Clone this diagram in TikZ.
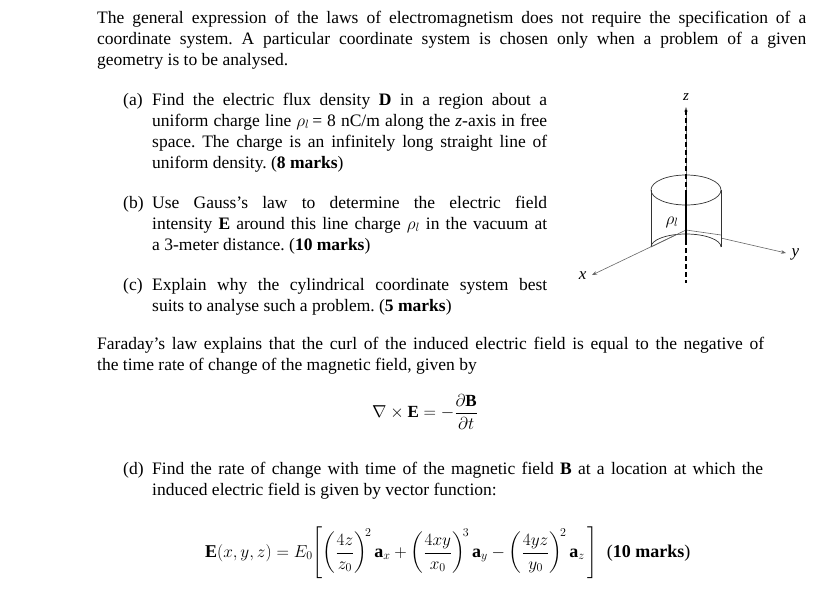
\documentclass[tikz,border=0pt]{standalone}
\usepackage{fontspec}
\setmainfont{Liberation Serif}
\usepackage{amsmath}
\usetikzlibrary{arrows.meta}
\tikzset{ln/.style={anchor=base west,inner sep=0pt,font=\fontsize{17.5}{21}\selectfont},
ax/.style={gray!80!black,line width=0.6pt,-{Stealth[length=5pt]}},
cyl/.style={black!80,line width=0.7pt}}
\newcommand{\J}[2]{\makebox[#1pt][s]{#2}}
\frenchspacing
\begin{document}
\begin{tikzpicture}[x=1pt,y=-1pt]
\useasboundingbox (0,0) rectangle (839,595);
\node[ln] (l1) at (97,23) {\J{709}{The general expression of the laws of electromagnetism does not require the specification of a}};
\node[ln] (l2) at (97,44) {\J{709}{coordinate system. A particular coordinate system is chosen only when a problem of a given}};
\node[ln] (l3) at (97,65) {geometry is to be analysed.};
\node[ln] (a0) at (123,105) {(a)};
\node[ln] (a1) at (152,105) {\J{395}{Find the electric flux density \textbf{D} in a region about a}};
\node[ln] (a2) at (152,126) {\J{395}{uniform charge line $\rho_l$\,= 8 nC/m along the \textit{z}-axis in free}};
\node[ln] (a3) at (152,147) {\J{395}{space. The charge is an infinitely long straight line of}};
\node[ln] (a4) at (152,168) {uniform density. (\textbf{8 marks})};
\node[ln] (b0) at (123,208) {(b)};
\node[ln] (b1) at (152,208) {\J{395}{Use Gauss's law to determine the electric field}};
\node[ln] (b2) at (152,229) {\J{395}{intensity \textbf{E} around this line charge $\rho_l$ in the vacuum at}};
\node[ln] (b3) at (152,250) {a 3-meter distance. (\textbf{10 marks})};
\node[ln] (c0) at (123,290) {(c)};
\node[ln] (c1) at (152,290) {\J{395}{Explain why the cylindrical coordinate system best}};
\node[ln] (c2) at (152,311) {suits to analyse such a problem. (\textbf{5 marks})};
\node[ln] (f1) at (97,349) {\J{667}{Faraday's law explains that the curl of the induced electric field is equal to the negative of}};
\node[ln] (f2) at (97,370) {the time rate of change of the magnetic field, given by};
\node[inner sep=0pt,font=\fontsize{17}{20}\selectfont] (eq) at (425,412) {$\nabla\times\mathbf{E}=-\dfrac{\partial\mathbf{B}}{\partial t}$};
\node[ln] (d0) at (123,474) {(d)};
\node[ln] (d1) at (152,474) {\J{611}{Find the rate of change with time of the magnetic field \textbf{B} at a location at which the}};
\node[ln] (d2) at (152,495) {induced electric field is given by vector function:};
\node[anchor=west,inner sep=0pt,font=\fontsize{18}{21}\selectfont] (e) at (205,553) {$\mathbf{E}(x,y,z)=E_0\!\left[\left(\dfrac{4z}{z_0}\right)^{\!2}\mathbf{a}_x+\left(\dfrac{4xy}{x_0}\right)^{\!3}\mathbf{a}_y-\left(\dfrac{4yz}{y_0}\right)^{\!2}\mathbf{a}_z\,\right]$\ \ (\textbf{10 marks})};
% figure
\coordinate (O) at (686,230);
\coordinate (ztop) at (686,107);
\coordinate (zbot) at (686,283);
\coordinate (yend) at (786,253);
\coordinate (xend) at (592,275);
\draw[ax] (O) -- (yend);
\draw[ax] (O) -- (xend);
\node[font=\itshape\fontsize{15}{15}\selectfont] (zl) at (686,97) {z};
\node[font=\itshape\fontsize{17}{17}\selectfont,anchor=west] (yl) at (788,254) {y};
\node[font=\itshape\fontsize{17}{17}\selectfont,anchor=east] (xl) at (590,276) {x};
\draw[ax] (686,190) -- (ztop);
\fill[white] (651,247) arc[start angle=180,end angle=360,x radius=35,y radius=13] -- (721,190) -- (651,190) -- cycle;
\draw[cyl] (686,190) ellipse[x radius=35,y radius=15];
\draw[cyl] (651,190) -- (651,247) (721,190) -- (721,247);
\draw[cyl] (651,247) arc[start angle=180,end angle=360,x radius=35,y radius=13];
\draw[ax,-] (O) -- (721,235);
\draw[ax,-] (O) -- (651,247);
\draw[line width=2pt,dash pattern=on 5pt off 3pt] (686,110) -- (686,190);
\draw[line width=2pt] (686,190) -- (686,240);
\draw[line width=2pt,dash pattern=on 5pt off 3pt] (686,240) -- (zbot);
\node[font=\fontsize{17}{17}\selectfont] (rho) at (672,222) {$\rho_l$};
\end{tikzpicture}
\end{document}
